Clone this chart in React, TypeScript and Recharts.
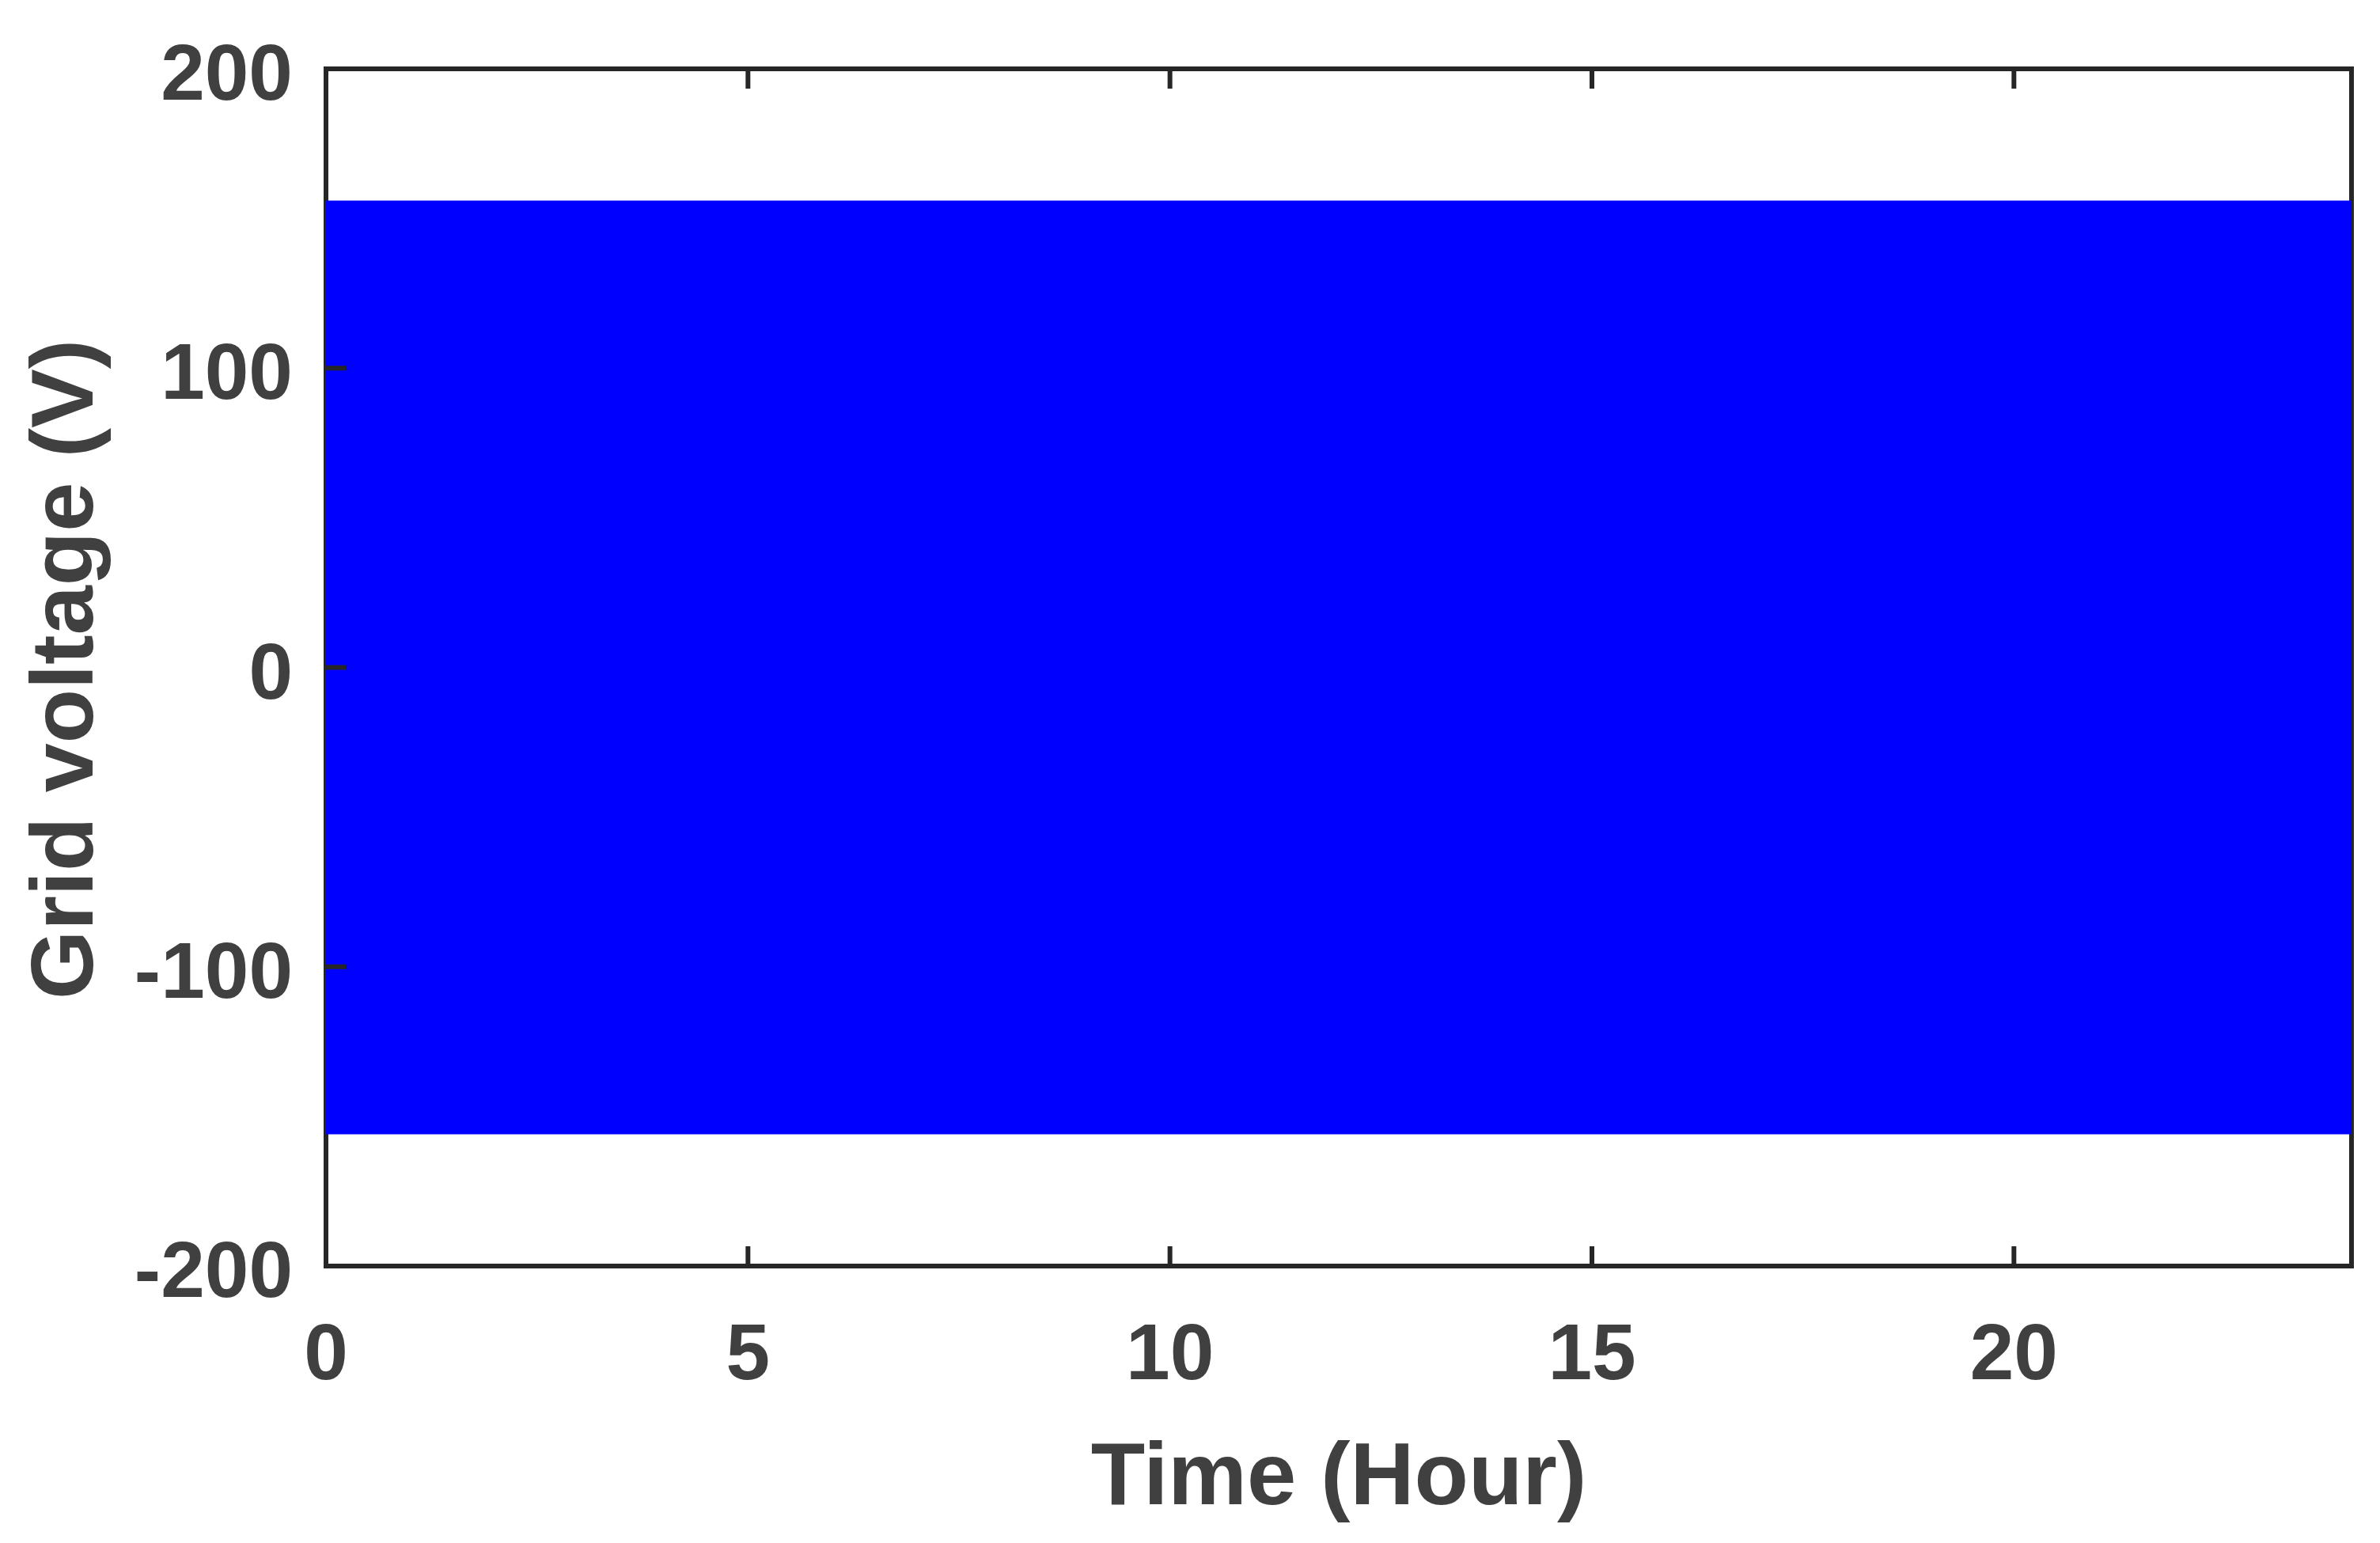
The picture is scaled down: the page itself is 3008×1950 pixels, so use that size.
import { ComposedChart, Area, XAxis, YAxis } from 'recharts';

// envelope of the 60 Hz grid waveform over one day
const timeHours = [0, 24];
const upperEnvelope = [156, 156];
const lowerEnvelope = [-156, -156];

const xTicks = [0, 5, 10, 15, 20];
const yTicks = [-200, -100, 0, 100, 200];

const data = timeHours.map((t, i) => ({ t, band: [lowerEnvelope[i], upperEnvelope[i]] }));

const FONT = '"Liberation Sans", Arial, Helvetica, sans-serif';
const TEXT = '#404040';
const FRAME = '#262626';
const TICK_LEN = 25;

const lineStyle = { stroke: FRAME, strokeWidth: 6, strokeLinecap: 'square' as const };

// MATLAB-style ticks: pointing into the plot box
const BottomTick = ({ x, y, payload }: any) => (
  <g>
    <line x1={x} x2={x} y1={y} y2={y - TICK_LEN} stroke={FRAME} strokeWidth={6} />
    <text x={x} y={y + 143} textAnchor="middle" fill={TEXT} fontSize={100} fontWeight="bold" fontFamily={FONT}>
      {payload.value}
    </text>
  </g>
);

const LeftTick = ({ x, y, payload }: any) => (
  <g>
    <line x1={x} x2={x + TICK_LEN} y1={y} y2={y} stroke={FRAME} strokeWidth={6} />
    <text x={x - 42} y={y + 39} textAnchor="end" fill={TEXT} fontSize={100} fontWeight="bold" fontFamily={FONT}>
      {payload.value}
    </text>
  </g>
);

const TopTick = ({ x, y }: any) => (
  <line x1={x} x2={x} y1={y} y2={y + TICK_LEN} stroke={FRAME} strokeWidth={6} />
);

const RightTick = ({ x, y }: any) => (
  <line x1={x} x2={x - TICK_LEN} y1={y} y2={y} stroke={FRAME} strokeWidth={6} />
);

const XTitle = () => (
  <text x={1692} y={1901} textAnchor="middle" fill={TEXT} fontSize={112} fontWeight="bold" fontFamily={FONT}>
    Time (Hour)
  </text>
);

const YTitle = () => (
  <text
    x={117}
    y={846}
    transform="rotate(-90, 117, 846)"
    textAnchor="middle"
    fill={TEXT}
    fontSize={112}
    fontWeight="bold"
    fontFamily={FONT}
  >
    Grid voltage (V)
  </text>
);

export default function App() {
  return (
    <div style={{ position: 'absolute', left: 0, top: 0, width: 3008, height: 1950, background: '#fff' }}>
      <ComposedChart width={3008} height={1950} data={data} margin={{ top: 86, right: 35, bottom: 0, left: 0 }}>
        <XAxis
          xAxisId="bottom"
          dataKey="t"
          type="number"
          domain={[0, 24]}
          ticks={xTicks}
          interval={0}
          height={350}
          tickSize={0}
          tickMargin={0}
          tick={<BottomTick />}
          tickLine={false}
          axisLine={lineStyle}
          label={{ content: () => <XTitle /> }}
        />
        <XAxis
          xAxisId="top"
          orientation="top"
          dataKey="t"
          type="number"
          domain={[0, 24]}
          ticks={xTicks}
          interval={0}
          height={1}
          tickSize={0}
          tickMargin={0}
          tick={<TopTick />}
          tickLine={false}
          axisLine={lineStyle}
        />
        <YAxis
          yAxisId="left"
          type="number"
          domain={[-200, 200]}
          ticks={yTicks}
          interval={0}
          width={412}
          tickSize={0}
          tickMargin={0}
          tick={<LeftTick />}
          tickLine={false}
          axisLine={lineStyle}
          label={{ content: () => <YTitle /> }}
        />
        <YAxis
          yAxisId="right"
          orientation="right"
          type="number"
          domain={[-200, 200]}
          ticks={yTicks}
          interval={0}
          width={1}
          tickSize={0}
          tickMargin={0}
          tick={<RightTick />}
          tickLine={false}
          axisLine={lineStyle}
        />
        <Area
          xAxisId="bottom"
          yAxisId="left"
          type="linear"
          dataKey="band"
          fill="#0000ff"
          fillOpacity={1}
          stroke="none"
          isAnimationActive={false}
          zIndex={600}
        />
      </ComposedChart>
    </div>
  );
}
